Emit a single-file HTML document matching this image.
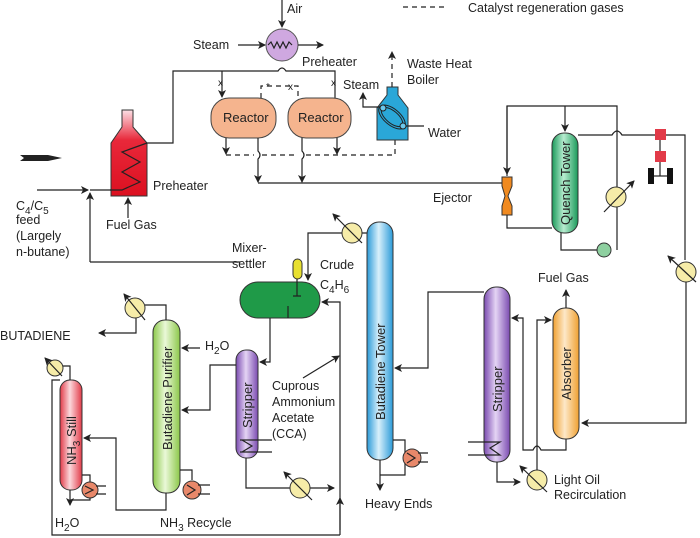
<!DOCTYPE html>
<html><head><meta charset="utf-8"><style>
body{margin:0;background:#fff}
svg{display:block;font-family:"Liberation Sans",sans-serif}
text{font-size:12.5px;fill:#222}
.l{fill:none;stroke:#222;stroke-width:1.2}
.d{fill:none;stroke:#222;stroke-width:1.2;stroke-dasharray:5,4}
</style></head><body>
<svg width="700" height="538" viewBox="0 0 700 538">
<defs>
<marker id="a" markerWidth="8" markerHeight="8" refX="7" refY="4" orient="auto" markerUnits="userSpaceOnUse"><path d="M0,0 L8,4 L0,8 L2,4z" fill="#222"/></marker>
<linearGradient id="gb" x1="0" x2="1"><stop offset="0" stop-color="#2a9ad8"/><stop offset=".45" stop-color="#d8f0fb"/><stop offset="1" stop-color="#2a9ad8"/></linearGradient>
<linearGradient id="gg" x1="0" x2="1"><stop offset="0" stop-color="#1a9a5a"/><stop offset=".45" stop-color="#b8ecd0"/><stop offset="1" stop-color="#1a9a5a"/></linearGradient>
<linearGradient id="gl" x1="0" x2="1"><stop offset="0" stop-color="#8cc84a"/><stop offset=".45" stop-color="#eaf8d8"/><stop offset="1" stop-color="#8cc84a"/></linearGradient>
<linearGradient id="gr" x1="0" x2="1"><stop offset="0" stop-color="#e23a48"/><stop offset=".45" stop-color="#fbd8dc"/><stop offset="1" stop-color="#e23a48"/></linearGradient>
<linearGradient id="gp" x1="0" x2="1"><stop offset="0" stop-color="#7a4ab0"/><stop offset=".45" stop-color="#e4d4f4"/><stop offset="1" stop-color="#7a4ab0"/></linearGradient>
<linearGradient id="go" x1="0" x2="1"><stop offset="0" stop-color="#f0a030"/><stop offset=".45" stop-color="#fde8c8"/><stop offset="1" stop-color="#f0a030"/></linearGradient>
<linearGradient id="gf" x1="0" y1="0" x2="0" y2="1"><stop offset="0" stop-color="#fde0e6"/><stop offset=".35" stop-color="#e8283a"/><stop offset="1" stop-color="#dc1020"/></linearGradient>
</defs>

<path class="d" d="M403,7 H447" stroke-dasharray="8,6"/>
<text x="468" y="12">Catalyst regeneration gases</text>

<path class="l" d="M282,0 V27" marker-end="url(#a)"/>
<text x="287" y="13">Air</text>
<text x="193" y="49">Steam</text>
<path class="l" d="M238,45 H265" marker-end="url(#a)"/>
<circle cx="282" cy="45" r="16" fill="#cfa8e0" stroke="#555"/>
<path class="l" d="M268,45 l3,-3 3,6 3,-6 3,6 3,-6 3,6 3,-6 3,3"/>
<path class="l" d="M298,45 H323" marker-end="url(#a)"/>
<text x="302" y="66">Preheater</text>

<path class="l" d="M147,143 H173 V71 H278 q4,-6 8,0 H335 V98"/>
<path class="l" d="M222,71 V97" marker-end="url(#a)"/>
<text x="218" y="86" style="font-size:10px">x</text>
<text x="331" y="86" style="font-size:10px">x</text>
<path class="d" d="M261,98 V86 H298 V97" stroke-dasharray="3,3"/>
<text x="266" y="90" style="font-size:10px">*</text><text x="288" y="90" style="font-size:10px">x</text>

<rect x="211" y="98" width="65" height="40" rx="18" fill="#f5b48e" stroke="#444"/>
<text x="223" y="122" style="font-size:13px">Reactor</text>
<rect x="288" y="98" width="63" height="40" rx="18" fill="#f5b48e" stroke="#444"/>
<text x="298" y="122" style="font-size:13px">Reactor</text>
<path class="l" d="M226,138 V154" marker-end="url(#a)"/>
<path class="l" d="M337,138 V154" marker-end="url(#a)"/>
<path class="d" d="M226,155 H254 M262,155 H298 M306,155 H395 V140"/>
<path class="l" d="M258,138 V151 q4,4 0,8 V182" marker-end="url(#a)"/>
<path class="l" d="M302,138 V151 q4,4 0,8 V182" marker-end="url(#a)"/>
<path class="l" d="M258,183 H502"/>

<path d="M387,87 V95 L377,108 V140 H408 V108 L398,95 V87z" fill="#2aa7d8" stroke="#333"/>
<ellipse cx="392" cy="117" rx="16" ry="8" transform="rotate(40 392 117)" fill="none" stroke="#222"/>
<ellipse cx="392" cy="117" rx="13" ry="6" transform="rotate(40 392 117)" fill="none" stroke="#222"/>
<circle cx="383" cy="108" r="3" fill="#6cc8ec" stroke="#222"/><circle cx="403" cy="126" r="3" fill="#6cc8ec" stroke="#222"/>
<path class="d" d="M392,87 V52" stroke-dasharray="3,3" marker-end="url(#a)"/>
<path class="l" d="M380,107 H363 V93" marker-end="url(#a)"/>
<path class="l" d="M406,126 H424"/>
<text x="407" y="68">Waste Heat</text><text x="407" y="84">Boiler</text>
<text x="343" y="89">Steam</text><text x="428" y="137">Water</text>

<path d="M122,110 H133 V127 L147,143 V196 H111 V143 L122,127z" fill="url(#gf)" stroke="#333"/>
<path class="l" d="M147,143 L122,152 L140,162 L122,172 L140,182 L122,190 H110"/>
<text x="153" y="190">Preheater</text>
<path class="l" d="M128,218 V198" marker-end="url(#a)"/>
<text x="106" y="229">Fuel Gas</text>
<path d="M20,155 H48 L62,158 L48,161 H20 L24,158z" fill="#222"/>
<path class="l" d="M37,190 H88" marker-end="url(#a)"/>
<path class="l" d="M90,190 H111"/>
<path class="l" d="M90,262 V193" marker-end="url(#a)"/>
<text x="16" y="210">C<tspan dy="4" font-size="10">4</tspan><tspan dy="-4">/C</tspan><tspan dy="4" font-size="10">5</tspan></text>
<text x="16" y="224">feed</text><text x="16" y="240">(Largely</text><text x="16" y="256">n-butane)</text>

<path d="M502,177 H512 V186 L508,196 L512,206 V215 H502 V206 L505,196 L502,186z" fill="#f08a20" stroke="#333"/>
<text x="433" y="202">Ejector</text>
<path class="l" d="M507,176 V106 H617 V250"/>
<path class="l" d="M507,106 V174" marker-end="url(#a)"/>
<path class="l" d="M565,106 V131" marker-end="url(#a)"/>
<path class="l" d="M507,215 V228 H552"/>
<rect x="552" y="133" width="26" height="100" rx="12" fill="url(#gg)" stroke="#333"/>
<text transform="translate(570,225) rotate(-90)" style="font-size:13px">Quench Tower</text>
<path class="l" d="M578,135 H612 q5,-8 10,0 H685 V260"/>
<path class="l" d="M561,233 V250 H597"/>
<circle cx="604" cy="250" r="7" fill="#8ed0a0" stroke="#333"/>
<circle cx="616" cy="197" r="10" fill="#f6eca8" stroke="#333"/>
<path class="l" d="M604,212 L634,181" marker-end="url(#a)"/>
<rect x="655" y="129" width="11" height="11" fill="#e23a48"/><rect x="655" y="151" width="11" height="11" fill="#e23a48"/>
<path class="l" d="M660,140 V151 M660,162 V176"/>
<rect x="648" y="168" width="6" height="16" fill="#111"/><rect x="667" y="168" width="6" height="16" fill="#111"/><path class="l" d="M654,176 H667"/>
<circle cx="686" cy="272" r="10" fill="#f6eca8" stroke="#333"/>
<path class="l" d="M696,282 L668,256" marker-end="url(#a)"/>
<path class="l" d="M686,282 V423 H582" marker-end="url(#a)"/>

<path class="l" d="M90,262 H240"/>
<rect x="240" y="282" width="80" height="36" rx="18" fill="#1f9a48" stroke="#333"/>
<rect x="293" y="259" width="9" height="20" rx="4.5" fill="#e8e030" stroke="#333"/>
<path class="l" d="M297,279 V296 M293,296 H301 M288,306 V318"/>
<text x="232" y="252">Mixer-</text><text x="232" y="268">settler</text>
<text x="320" y="269">Crude</text><text x="320" y="289">C<tspan dy="4" font-size="10">4</tspan><tspan dy="-4">H</tspan><tspan dy="4" font-size="10">6</tspan></text>
<path class="l" d="M342,233 H308 V280" marker-end="url(#a)"/>
<circle cx="352" cy="233" r="10" fill="#f6eca8" stroke="#333"/>
<path class="l" d="M362,243 L333,214" marker-end="url(#a)"/>
<path class="l" d="M362,233 H380 V222"/>

<rect x="367" y="222" width="26" height="238" rx="12" fill="url(#gb)" stroke="#333"/>
<text transform="translate(385,420) rotate(-90)" style="font-size:13px">Butadiene Tower</text>
<path class="l" d="M484,292 H428 V368 H395" marker-end="url(#a)"/>
<path class="l" d="M380,460 V490" marker-end="url(#a)"/>
<path class="l" d="M393,440 H405 V475 H380"/>
<circle cx="412" cy="458" r="9" fill="#e8886a" stroke="#333"/>
<path class="l" d="M407,453 L415,458 L407,463 M418,453 H428 M418,462 H428"/>
<text x="365" y="508">Heavy Ends</text>

<rect x="484" y="287" width="26" height="175" rx="12" fill="url(#gp)" stroke="#333"/>
<text transform="translate(502,412) rotate(-90)" style="font-size:13px">Stripper</text>
<path class="l" d="M468,442 H500 L490,448 L500,455 H468"/>
<path class="l" d="M497,462 V482 H520" marker-end="url(#a)"/>
<circle cx="537" cy="480" r="10" fill="#f6eca8" stroke="#333"/>
<path class="l" d="M547,492 L520,466" marker-end="url(#a)"/>
<path class="l" d="M537,470 V320 H551" marker-end="url(#a)"/>
<path class="l" d="M566,438 V450 H541 q-4,-8 -8,0 H523 V318 H512" marker-end="url(#a)"/>
<rect x="553" y="308" width="26" height="131" rx="12" fill="url(#go)" stroke="#333"/>
<text transform="translate(571,400) rotate(-90)" style="font-size:13px">Absorber</text>
<path class="l" d="M566,308 V290" marker-end="url(#a)"/>
<text x="538" y="282">Fuel Gas</text>
<text x="554" y="484">Light Oil</text><text x="554" y="499">Recirculation</text>

<path class="l" d="M270,318 V362 H260" marker-end="url(#a)"/>
<rect x="236" y="350" width="22" height="108" rx="10" fill="url(#gp)" stroke="#333"/>
<text transform="translate(252,428) rotate(-90)" style="font-size:13px">Stripper</text>
<path class="l" d="M240,440 H272 M240,452 H272 M242,440 L252,446 L242,452"/>
<path class="l" d="M236,365 H210 V410 H182" marker-end="url(#a)"/>
<path class="l" d="M246,458 V488 H334" marker-end="url(#a)"/>
<circle cx="300" cy="488" r="10" fill="#f6eca8" stroke="#333"/>
<path class="l" d="M312,500 L284,472" marker-end="url(#a)"/>
<path class="l" d="M340,535 V302 H322" marker-end="url(#a)"/>
<path class="l" d="M340,530 V498" marker-end="url(#a)"/>
<path class="l" d="M303,378 L339,356" marker-end="url(#a)"/>
<text x="272" y="390">Cuprous</text><text x="272" y="406">Ammonium</text><text x="272" y="422">Acetate</text><text x="272" y="438">(CCA)</text>

<rect x="153" y="320" width="27" height="173" rx="12" fill="url(#gl)" stroke="#333"/>
<text transform="translate(172,450) rotate(-90)" style="font-size:13px">Butadiene Purifier</text>
<path class="l" d="M166,320 V305 H145 M125,305 H136 V333 H99" marker-end="url(#a)"/>
<circle cx="135" cy="308" r="10" fill="#f6eca8" stroke="#333"/>
<path class="l" d="M145,320 L124,294" marker-end="url(#a)"/>
<text x="0" y="340">BUTADIENE</text>
<path class="l" d="M200,348 H182" marker-end="url(#a)"/>
<text x="205" y="350">H<tspan dy="4" font-size="10">2</tspan><tspan dy="-4">O</tspan></text>
<path class="l" d="M180,470 H192 V480"/>
<circle cx="192" cy="490" r="9" fill="#e8886a" stroke="#333"/>
<path class="l" d="M187,485 L195,490 L187,495 M198,485 H210 M198,494 H210"/>
<path class="l" d="M166,493 V510 H116 V438 H84" marker-end="url(#a)"/>
<text x="160" y="527">NH<tspan dy="4" font-size="10">3</tspan><tspan dy="-4"> Recycle</tspan></text>

<rect x="60" y="380" width="22" height="110" rx="10" fill="url(#gr)" stroke="#333"/>
<text transform="translate(76,465) rotate(-90)" style="font-size:13px">NH<tspan dy="4" font-size="10">3</tspan><tspan dy="-4"> Still</tspan></text>
<path class="l" d="M70,380 V366 H63 M60,380 H52 V535 H340"/>
<circle cx="55" cy="368" r="8" fill="#f6eca8" stroke="#333"/>
<path class="l" d="M62,376 L45,358" marker-end="url(#a)"/>
<path class="l" d="M82,475 H90 V482"/>
<circle cx="90" cy="490" r="8" fill="#e8886a" stroke="#333"/>
<path class="l" d="M85,486 L93,490 L85,494 M96,486 H106 M96,494 H106"/>
<path class="l" d="M70,490 V505" marker-end="url(#a)"/>
<path class="l" d="M70,500 H90 V498"/>
<text x="55" y="527">H<tspan dy="4" font-size="10">2</tspan><tspan dy="-4">O</tspan></text>
</svg>
</body></html>
